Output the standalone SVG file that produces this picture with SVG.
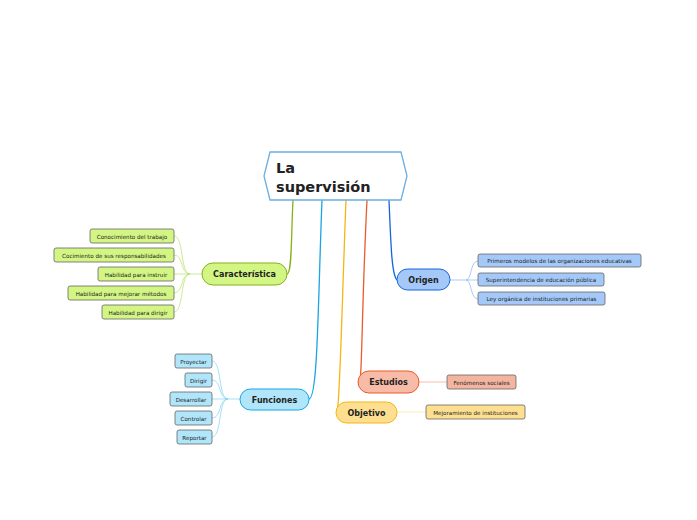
<svg xmlns="http://www.w3.org/2000/svg" width="697" height="520" viewBox="0 0 697 520">
<style>
text{font-family:"DejaVu Sans",Verdana,sans-serif;fill:#222}
.m{font-size:8px;font-weight:bold;text-anchor:middle}
.l{font-size:5.6px;text-anchor:middle}
.lf{stroke:#666;stroke-width:0.8}
.c{fill:none;stroke-width:1.3}
.t{fill:none;stroke-width:0.7}
</style>
<rect width="697" height="520" fill="#fff"/>
<g id="connectors">
<path class="c" stroke="#84b21a" d="M293,200 C291,240 292,274 287,274"/>
<path class="c" stroke="#17a5e6" d="M322,200 C318,300 318,399 309,399"/>
<path class="c" stroke="#f5b517" d="M346,200 C342,300 340,405 337,412"/>
<path class="c" stroke="#eb5a2a" d="M367,200 C362,300 362,372 360,382"/>
<path class="c" stroke="#1565d8" d="M389,200 C391,250 392,275 397,280"/>
<g stroke="#b8df6a" class="t">
<path d="M202,274 L190,274 C180,274 184,236 174,236"/>
<path d="M190,274 C180,274 184,255 174,255"/>
<path d="M190,274 L174,274"/>
<path d="M190,274 C180,274 184,293 174,293"/>
<path d="M190,274 C180,274 184,312 174,312"/>
</g>
<g stroke="#7fd0f5" class="t">
<path d="M240,399 L228,399 C218,399 222,361 212,361"/>
<path d="M228,399 C218,399 222,380 212,380"/>
<path d="M228,399 L212,399"/>
<path d="M228,399 C218,399 222,418 212,418"/>
<path d="M228,399 C218,399 222,437 212,437"/>
</g>
<g stroke="#86b1ee" class="t">
<path d="M450,280 L466,280 C472,280 470,261 478,261"/>
<path d="M466,280 C472,280 470,280 478,280"/>
<path d="M466,280 C472,280 470,299 478,299"/>
</g>
<path class="t" stroke="#f3a58c" d="M419,382 L447,382"/>
<path class="t" stroke="#fde29a" d="M397,412 L426,412"/>
</g>
<g id="central">
<polygon points="270,152 401,152 407,176 401,200 270,200 264,176" fill="#fff" stroke="#6aaee0" stroke-width="1.3"/>
<text x="276" y="173" font-size="14.5" font-weight="bold" fill="#111">La</text>
<text x="276" y="192" font-size="14.5" font-weight="bold" fill="#111">supervisión</text>
</g>
<g id="caracteristica">
<rect x="202" y="263" width="85" height="22" rx="11" fill="#d2f584" stroke="#84b21a"/>
<text class="m" x="244.5" y="277">Característica</text>
</g>
<g id="car-leaves" fill="#d2f584">
<rect class="lf" x="90" y="229" width="84" height="14" rx="2"/><text class="l" x="132" y="238.5">Conocimiento del trabajo</text>
<rect class="lf" x="54" y="248" width="120" height="14" rx="2"/><text class="l" x="114" y="257.5">Cocimiento de sus responsabilidades</text>
<rect class="lf" x="98" y="267" width="76" height="14" rx="2"/><text class="l" x="136" y="276.5">Habilidad para instruir</text>
<rect class="lf" x="68" y="286" width="106" height="14" rx="2"/><text class="l" x="121" y="295.5">Habilidad para mejorar métodos</text>
<rect class="lf" x="102" y="305" width="72" height="14" rx="2"/><text class="l" x="138" y="314.5">Habilidad para dirigir</text>
</g>
<g id="funciones">
<rect x="240" y="389" width="69" height="21" rx="10.5" fill="#b0e5fa" stroke="#17a5e6"/>
<text class="m" x="274.5" y="402.5">Funciones</text>
</g>
<g id="fun-leaves" fill="#b0e5fa">
<rect class="lf" x="175" y="354" width="37" height="14" rx="2"/><text class="l" x="193.5" y="363.5">Proyectar</text>
<rect class="lf" x="185" y="373" width="27" height="14" rx="2"/><text class="l" x="198.5" y="382.5">Dirigir</text>
<rect class="lf" x="170" y="392" width="42" height="14" rx="2"/><text class="l" x="191" y="401.5">Desarrollar</text>
<rect class="lf" x="175" y="411" width="37" height="14" rx="2"/><text class="l" x="193.5" y="420.5">Controlar</text>
<rect class="lf" x="177" y="430" width="35" height="14" rx="2"/><text class="l" x="194.5" y="439.5">Reportar</text>
</g>
<g id="estudios">
<rect x="358" y="371" width="61" height="22" rx="11" fill="#f8bba7" stroke="#eb5a2a"/>
<text class="m" x="388.5" y="385">Estudios</text>
<rect class="lf" x="447" y="375" width="69" height="14" rx="2" fill="#f3b5a0"/><text class="l" x="481.5" y="384.5">Fenómenos sociales</text>
</g>
<g id="objetivo">
<rect x="336" y="402" width="61" height="21" rx="10.5" fill="#fedf8f" stroke="#f5b517"/>
<text class="m" x="366.5" y="415.5">Objetivo</text>
<rect class="lf" x="426" y="405" width="99" height="14" rx="2" fill="#fedf8f"/><text class="l" x="475.5" y="414.5">Mejoramiento de instituciones</text>
</g>
<g id="origen">
<rect x="397" y="269" width="53" height="21" rx="10.5" fill="#a4c8f8" stroke="#1565d8"/>
<text class="m" x="423.5" y="282.5">Origen</text>
<g fill="#a4c8f8">
<rect class="lf" x="478" y="254" width="163" height="13" rx="2"/><text class="l" x="559.5" y="262.5">Primeros modelos de las organizaciones educativas</text>
<rect class="lf" x="478" y="273" width="126" height="13" rx="2"/><text class="l" x="541" y="281.5">Superintendencia de educación pública</text>
<rect class="lf" x="478" y="292" width="127" height="13" rx="2"/><text class="l" x="541.5" y="300.5">Ley orgánica de instituciones primarias</text>
</g>
</g>
</svg>
